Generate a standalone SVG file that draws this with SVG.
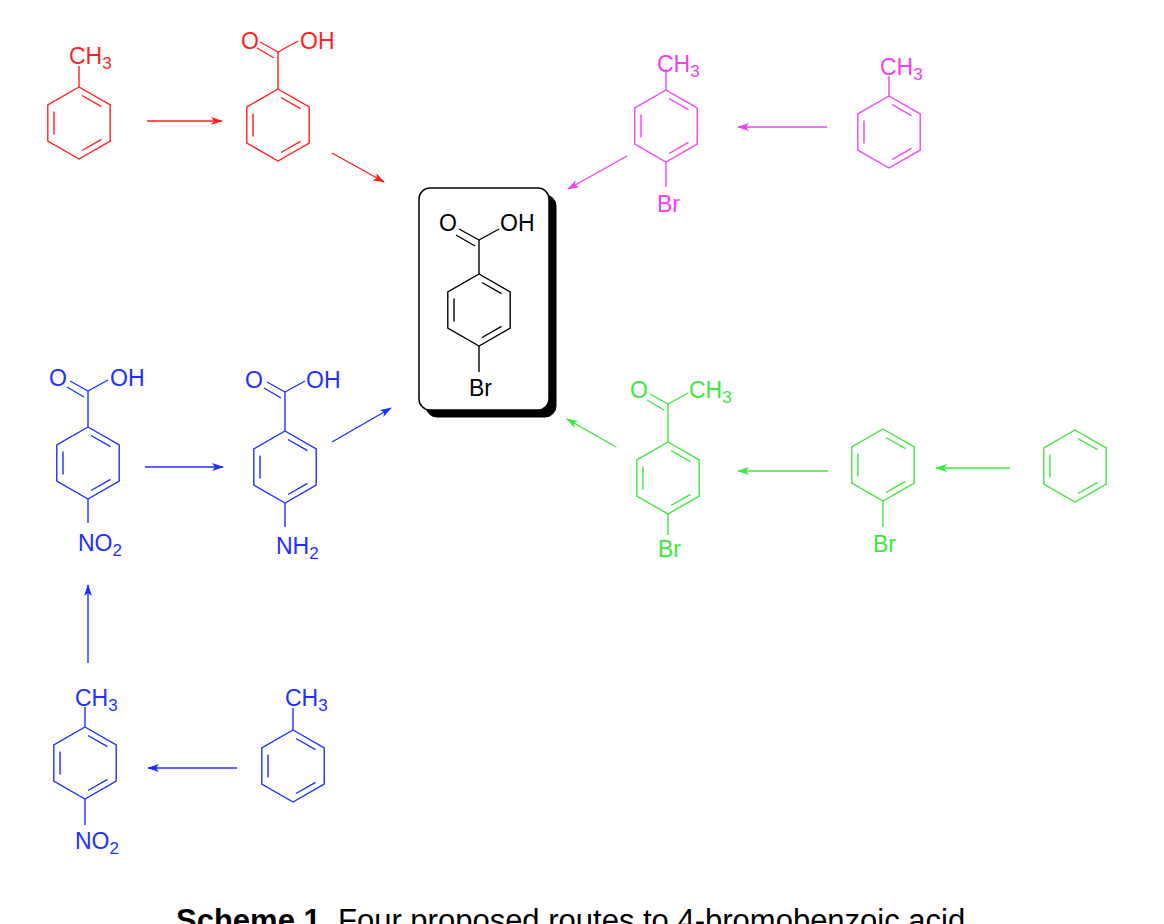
<svg xmlns="http://www.w3.org/2000/svg" xmlns:xlink="http://www.w3.org/1999/xlink" width="1164" height="924" viewBox="0 0 1164 924">
<style>
text{font-family:"Liberation Sans",Arial,sans-serif;font-size:23px}
.sub{font-size:17px}
.r{color:#ff1f1f;fill:#ff1f1f;stroke:#ff1f1f}
.m{color:#f040f0;fill:#f040f0;stroke:#f040f0}
.g{color:#3de83d;fill:#3de83d;stroke:#3de83d}
.b{color:#1f30ff;fill:#1f30ff;stroke:#1f30ff}
.k{color:#000;fill:#000;stroke:#000}
line{stroke-width:1.4;fill:none}
text{stroke:none}
</style>
<defs>
<g id="ring" fill="none" stroke="currentColor" stroke-width="1.4">
<path d="M0,-36 L31.2,-18 L31.2,18 L0,36 L-31.2,18 L-31.2,-18 Z"/>
<path d="M3,-27.5 L22.5,-16.3 M22.5,16.3 L3,27.5 M-25,11.5 L-25,-11.5"/>
</g>
<marker id="ar" viewBox="0 0 12 8" refX="11" refY="4" markerWidth="12" markerHeight="8" markerUnits="userSpaceOnUse" orient="auto"><path d="M0,0 L12,4 L0,8 L3,4 Z" fill="#ff1f1f"/></marker>
<marker id="am" viewBox="0 0 12 8" refX="11" refY="4" markerWidth="12" markerHeight="8" markerUnits="userSpaceOnUse" orient="auto"><path d="M0,0 L12,4 L0,8 L3,4 Z" fill="#f040f0"/></marker>
<marker id="ag" viewBox="0 0 12 8" refX="11" refY="4" markerWidth="12" markerHeight="8" markerUnits="userSpaceOnUse" orient="auto"><path d="M0,0 L12,4 L0,8 L3,4 Z" fill="#3de83d"/></marker>
<marker id="ab" viewBox="0 0 12 8" refX="11" refY="4" markerWidth="12" markerHeight="8" markerUnits="userSpaceOnUse" orient="auto"><path d="M0,0 L12,4 L0,8 L3,4 Z" fill="#1f30ff"/></marker>
</defs>
<rect width="1164" height="924" fill="#fff"/>

<g id="target" class="k">
<rect x="426" y="195" width="130" height="222" rx="11" fill="#000"/>
<rect x="419" y="188" width="130" height="222" rx="11" fill="#fff" stroke="#000" stroke-width="1.5"/>
<use href="#ring" x="479" y="310"/>
<line x1="479" y1="274" x2="479" y2="240"/>
<line x1="479" y1="240" x2="459" y2="229"/><line x1="475" y1="246" x2="456" y2="235"/>
<line x1="479" y1="240" x2="499" y2="229"/>
<text x="448" y="231" text-anchor="middle">O</text><text x="500" y="231">OH</text>
<line x1="479" y1="346" x2="479" y2="372"/>
<text x="469" y="396">Br</text>
</g>

<g id="red-toluene" class="r">
<use href="#ring" x="79" y="123"/>
<line x1="79" y1="87" x2="79" y2="66"/>
<text x="69" y="64">CH<tspan class="sub" dy="5">3</tspan></text>
</g>
<g id="red-benzoic" class="r">
<use href="#ring" x="278" y="125"/>
<line x1="278" y1="89" x2="278" y2="52"/>
<line x1="278" y1="52" x2="260" y2="42"/><line x1="274" y1="58" x2="257" y2="48"/>
<line x1="278" y1="52" x2="298" y2="41"/>
<text x="250" y="49" text-anchor="middle">O</text><text x="300" y="49">OH</text>
</g>

<g id="mag-bromotoluene" class="m">
<use href="#ring" x="666" y="126"/>
<line x1="666" y1="90" x2="666" y2="69"/>
<text x="657" y="72">CH<tspan class="sub" dy="5">3</tspan></text>
<line x1="666" y1="162" x2="666" y2="187"/>
<text x="657" y="212">Br</text>
</g>
<g id="mag-toluene" class="m">
<use href="#ring" x="889" y="132"/>
<line x1="889" y1="96" x2="889" y2="76"/>
<text x="880" y="75">CH<tspan class="sub" dy="5">3</tspan></text>
</g>

<g id="green-acetophenone" class="g">
<use href="#ring" x="668" y="478"/>
<line x1="668" y1="442" x2="668" y2="404"/>
<line x1="668" y1="404" x2="650" y2="394"/><line x1="664" y1="410" x2="647" y2="400"/>
<line x1="668" y1="404" x2="688" y2="393"/>
<text x="639" y="398" text-anchor="middle">O</text>
<text x="689" y="398">CH<tspan class="sub" dy="5">3</tspan></text>
<line x1="668" y1="514" x2="668" y2="535"/>
<text x="658" y="557">Br</text>
</g>
<g id="green-bromobenzene" class="g">
<use href="#ring" x="883" y="465"/>
<line x1="883" y1="501" x2="883" y2="527"/>
<text x="873" y="552">Br</text>
</g>
<g id="green-benzene" class="g">
<use href="#ring" x="1075" y="466"/>
</g>

<g id="blue-nitrobenzoic" class="b">
<use href="#ring" x="88" y="463"/>
<line x1="88" y1="427" x2="88" y2="391"/>
<line x1="88" y1="391" x2="70" y2="381"/><line x1="84" y1="397" x2="67" y2="387"/>
<line x1="88" y1="391" x2="108" y2="380"/>
<text x="58" y="386" text-anchor="middle">O</text><text x="110" y="386">OH</text>
<line x1="88" y1="499" x2="88" y2="523"/>
<text x="78" y="551">NO<tspan class="sub" dy="5">2</tspan></text>
</g>
<g id="blue-aminobenzoic" class="b">
<use href="#ring" x="285" y="467"/>
<line x1="285" y1="431" x2="285" y2="392"/>
<line x1="285" y1="392" x2="267" y2="382"/><line x1="281" y1="398" x2="264" y2="388"/>
<line x1="285" y1="392" x2="305" y2="381"/>
<text x="254" y="388" text-anchor="middle">O</text><text x="306" y="388">OH</text>
<line x1="285" y1="503" x2="285" y2="527"/>
<text x="276" y="554">NH<tspan class="sub" dy="5">2</tspan></text>
</g>
<g id="blue-nitrotoluene" class="b">
<use href="#ring" x="85" y="763"/>
<line x1="85" y1="727" x2="85" y2="707"/>
<text x="75" y="706">CH<tspan class="sub" dy="5">3</tspan></text>
<line x1="85" y1="799" x2="85" y2="825"/>
<text x="75" y="849">NO<tspan class="sub" dy="5">2</tspan></text>
</g>
<g id="blue-toluene" class="b">
<use href="#ring" x="293" y="766"/>
<line x1="293" y1="730" x2="293" y2="708"/>
<text x="285" y="706">CH<tspan class="sub" dy="5">3</tspan></text>
</g>

<g id="connectors">
<line class="r" x1="147" y1="121" x2="222" y2="121" marker-end="url(#ar)"/>
<line class="r" x1="332" y1="153" x2="384" y2="182" marker-end="url(#ar)"/>
<line class="m" x1="827" y1="127" x2="738" y2="127" marker-end="url(#am)"/>
<line class="m" x1="627" y1="156" x2="568" y2="189" marker-end="url(#am)"/>
<line class="g" x1="1010" y1="468" x2="936" y2="468" marker-end="url(#ag)"/>
<line class="g" x1="828" y1="471" x2="738" y2="471" marker-end="url(#ag)"/>
<line class="g" x1="616" y1="447" x2="567" y2="419" marker-end="url(#ag)"/>
<line class="b" x1="145" y1="467" x2="223" y2="467" marker-end="url(#ab)"/>
<line class="b" x1="332" y1="442" x2="391" y2="408" marker-end="url(#ab)"/>
<line class="b" x1="88" y1="663" x2="88" y2="585" marker-end="url(#ab)"/>
<line class="b" x1="237" y1="768" x2="148" y2="768" marker-end="url(#ab)"/>
</g>

<text x="176" y="931" style="font-size:31px;fill:#000">
<tspan font-weight="bold">Scheme 1.</tspan> Four proposed routes to 4-bromobenzoic acid.</text>
</svg>
